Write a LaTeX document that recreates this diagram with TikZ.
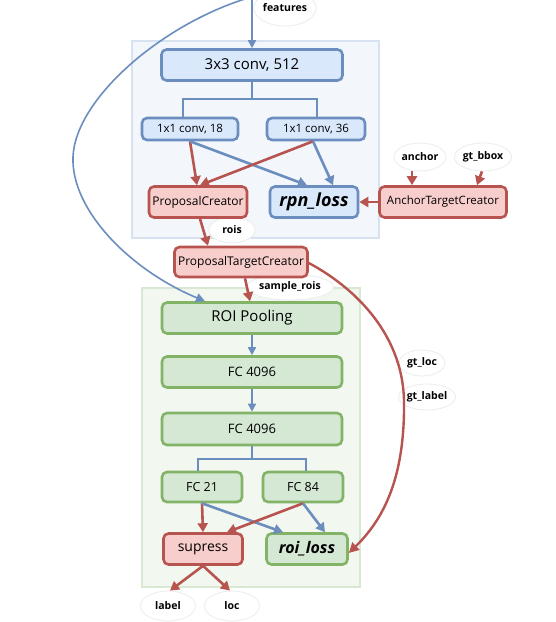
\documentclass[tikz,border=0pt]{standalone}
\usepackage{fontspec}
\setmainfont{Open Sans}
\usetikzlibrary{arrows.meta,shapes.geometric}
\definecolor{bbd}{HTML}{6C8EBF}
\definecolor{bfill}{HTML}{DAE8FC}
\definecolor{rbd}{HTML}{B85450}
\definecolor{rfill}{HTML}{F8CECC}
\definecolor{gbd}{HTML}{82B366}
\definecolor{gfill}{HTML}{D5E8D4}
\definecolor{bregfill}{HTML}{F3F7FC}
\definecolor{bregbd}{HTML}{D6E2F0}
\definecolor{gregfill}{HTML}{F2F8F0}
\definecolor{gregbd}{HTML}{D9E8D3}
\definecolor{lblbd}{HTML}{ECECEC}
\begin{document}
\begin{tikzpicture}[x=1pt,y=-1pt,
  box/.style={draw, rounded corners=5pt, line width=2.6pt, inner sep=0pt, align=center},
  bluebox/.style={box, draw=bbd, fill=bfill},
  redbox/.style={box, draw=rbd, fill=rfill},
  greenbox/.style={box, draw=gbd, fill=gfill},
  fs/.style={font=\fontsize{#1}{#1}\selectfont},
  lossfont/.style={font=\fontsize{#1}{#1}\selectfont\bfseries\itshape},
  lbl/.style={ellipse, draw=lblbd, line width=0.8pt, fill=white, inner sep=0pt,
    font=\fontsize{10.5}{12}\selectfont\bfseries},
  region/.style={line width=1.8pt},
  arr/.style={-{Triangle[length=9pt,width=10pt]}, line width=2.6pt},
  barr/.style={arr, draw=bbd},
  rarr/.style={arr, draw=rbd},
  tree/.style={draw=bbd, line width=1.8pt},
  thinb/.style={-{Triangle[length=8pt,width=8pt]}, draw=bbd, line width=1.6pt},
  curveb/.style={-{Triangle[length=9pt,width=9pt]}, draw=bbd, line width=1.6pt},
  curver/.style={-{Triangle[length=10pt,width=10pt]}, draw=rbd, line width=2.4pt}
]
\useasboundingbox (0,0) rectangle (556,622);
\fill[white] (0,0) rectangle (556,622);

% regions
\draw[region, draw=bregbd, fill=bregfill] (132,41) rectangle (379,238);
\draw[region, draw=gregbd, fill=gregfill] (142,288) rectangle (360,587);

% label ellipses
\node[lbl, minimum width=52pt, minimum height=36pt] (features) at (285,8) {features};
\node[lbl, minimum width=50pt, minimum height=28pt] (anchor) at (420,157) {anchor};
\node[lbl, minimum width=56pt, minimum height=28pt] (gtbbox) at (483,157) {gt\_bbox};
\node[lbl, minimum width=46pt, minimum height=26pt] (rois) at (232,230) {rois};
\node[lbl, minimum width=72pt, minimum height=26pt] (srois) at (290,287) {sample\_rois};
\node[lbl, minimum width=46pt, minimum height=26pt] (gtloc) at (422,363) {gt\_loc};
\node[lbl, minimum width=52pt, minimum height=26pt] (gtlabel) at (427,397) {gt\_label};
\node[lbl, minimum width=55pt, minimum height=30pt] (label) at (168,606) {label};
\node[lbl, minimum width=55pt, minimum height=30pt] (loc) at (232,606) {loc};

% blue boxes
\node[bluebox, fs=15, minimum width=181pt, minimum height=31pt] (conv3) at (252,65) {3x3 conv, 512};
\node[bluebox, fs=11.5, minimum width=96pt, minimum height=22pt] (c18) at (190,129) {1x1 conv, 18};
\node[bluebox, fs=11.5, minimum width=98pt, minimum height=22pt] (c36) at (316,129) {1x1 conv, 36};
\node[bluebox, lossfont=18, minimum width=88pt, minimum height=31pt] (rpn) at (314,202) {rpn\_loss};

% red boxes
\node[redbox, fs=12, minimum width=98pt, minimum height=31pt] (pc) at (198,202) {ProposalCreator};
\node[redbox, fs=11.5, minimum width=127pt, minimum height=31pt] (atc) at (443,202) {AnchorTargetCreator};
\node[redbox, fs=12, minimum width=133pt, minimum height=30pt] (ptc) at (241,262) {ProposalTargetCreator};
\node[redbox, fs=14, minimum width=79pt, minimum height=31pt] (sup) at (203,549) {supress};

% green boxes
\node[greenbox, fs=15, minimum width=180pt, minimum height=31pt] (roi) at (252,318) {ROI Pooling};
\node[greenbox, fs=13, minimum width=180pt, minimum height=31pt] (fc1) at (252,372) {FC 4096};
\node[greenbox, fs=13, minimum width=180pt, minimum height=32pt] (fc2) at (252,429) {FC 4096};
\node[greenbox, fs=12.5, minimum width=80pt, minimum height=30pt] (fc21) at (202,487) {FC 21};
\node[greenbox, fs=12.5, minimum width=80pt, minimum height=30pt] (fc84) at (303,487) {FC 84};
\node[greenbox, lossfont=16, minimum width=81pt, minimum height=31pt] (roiloss) at (307,549) {roi\_loss};

% coordinates
\coordinate (ftop) at (252,-2);
\coordinate (ctop) at (248,-2);

% top part
\draw[thinb] (ftop) -- (conv3.north);
\draw[tree] (conv3.south) -- ++(0,17) -| ([xshift=-7pt]c18.north);
\draw[tree] (conv3.south) -- ++(0,17) -| ([xshift=1pt]c36.north);
\draw[rarr] (c18.south) -- ([xshift=-1pt]pc.north);
\draw[barr] (c18.south) -- ([xshift=-7pt]rpn.north);
\draw[rarr] ([xshift=-3pt]c36.south) -- ([xshift=2pt]pc.north);
\draw[barr] ([xshift=-3pt]c36.south) -- ([xshift=19pt]rpn.north);
\draw[rarr] ([xshift=-8pt]anchor.south) -- ([xshift=-31pt]atc.north);
\draw[rarr] ([xshift=-1pt]gtbbox.south) -- ([xshift=34pt]atc.north);
\draw[rarr] (atc.west) -- (rpn.east);
\draw[rarr] ([xshift=2pt]pc.south) -- ([xshift=-33pt]ptc.north);

% blue curve from features to ROI pooling
\draw[curveb] (ctop) .. controls (160,25) and (75,100) .. (73,157)
  .. controls (71,210) and (130,270) .. ([xshift=-47pt]roi.north);

% middle
\draw[rarr] ([xshift=4pt]ptc.south) -- ([xshift=-2pt]roi.north);
\draw[thinb] (roi.south) -- (fc1.north);
\draw[thinb] (fc1.south) -- (fc2.north);
\draw[tree] (fc2.south) -- ++(0,13) -| ([xshift=-4pt]fc21.north);
\draw[tree] (fc2.south) -- ++(0,13) -| ([xshift=3pt]fc84.north);

% bottom
\draw[rarr] (fc21.south) -- (sup.north);
\draw[barr] (fc21.south) -- ([xshift=-24pt]roiloss.north);
\draw[rarr] (fc84.south) -- ([xshift=24pt]sup.north);
\draw[barr] (fc84.south) -- ([xshift=18pt]roiloss.north);
\draw[rarr] (sup.south) -- ([xshift=2pt]label.north);
\draw[rarr] (sup.south) -- ([xshift=-2pt]loc.north);

% red curve
\draw[curver] ([yshift=-1pt]ptc.east) .. controls (350,285) and (402,330) .. (404,400)
  .. controls (405,470) and (388,515) .. ([yshift=-4pt]roiloss.east);
\end{tikzpicture}
\end{document}
